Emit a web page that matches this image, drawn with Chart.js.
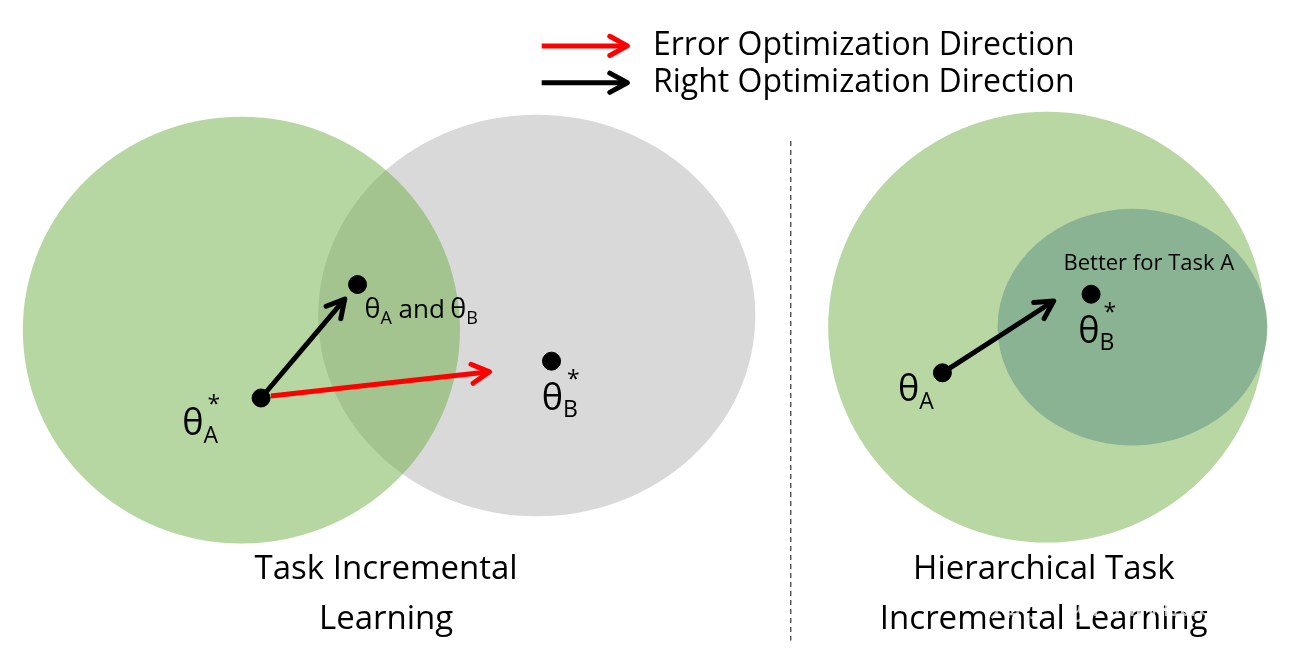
<!DOCTYPE html>
<html><head><meta charset="utf-8">
<script src="https://cdn.jsdelivr.net/npm/chart.js@4"></script>
<style>html,body{margin:0;padding:0;background:#fff}#wrap{width:1298px;height:667px}</style>
</head><body><div id="wrap"><canvas id="c"></canvas></div>
<script>
// regions: centre x, centre y, radius x, radius y (diagram units)
var regionX = [535, 235, 1053, 1140];
var regionY = [315, 330, 327, 327];
var regionRx = [222, 222, 222, 137];
var regionRy = [207, 220, 222, 122];
var regionColor = ['#d9d9d9', 'rgba(109,175,67,0.5)', '#b8d7a3', '#8ab394'];

var pointX = [255, 353, 550, 947, 1098];
var pointY = [400, 283, 362, 374, 293];

// arrows: from -> to
var arrowFromX = [255, 265, 947, 540, 540];
var arrowFromY = [400, 398, 374, 37, 75];
var arrowToX = [340, 487, 1060, 627, 627];
var arrowToY = [298, 373, 300, 37, 75];
var arrowColor = ['#000', '#f00', '#000', '#f00', '#000'];

var legendLabels = ['Error Optimization Direction', 'Right Optimization Direction'];
var titleLeft = ['Task Incremental', 'Learning'];
var titleRight = ['Hierarchical Task', 'Incremental Learning'];

var F = '"Open Sans", sans-serif';

var arrowSets = arrowFromX.map(function (x, i) {
    return {
        type: 'line', data: [{x: x, y: arrowFromY[i]}, {x: arrowToX[i], y: arrowToY[i]}],
        borderColor: arrowColor[i], borderWidth: 5, pointRadius: 0, showLine: true, fill: false
    };
});

var diagramPlugin = {
    id: 'diagram',
    beforeDatasetsDraw: function (chart) {
        var ctx = chart.ctx, xs = chart.scales.x, ys = chart.scales.y;
        ctx.save();
        for (var i = 0; i < regionX.length; i++) {
            var cx = xs.getPixelForValue(regionX[i]), cy = ys.getPixelForValue(regionY[i]);
            var rx = xs.getPixelForValue(regionX[i] + regionRx[i]) - cx;
            var ry = Math.abs(ys.getPixelForValue(regionY[i] + regionRy[i]) - cy);
            ctx.beginPath();
            ctx.ellipse(cx, cy, rx, ry, 0, 0, Math.PI * 2);
            ctx.fillStyle = regionColor[i];
            ctx.fill();
        }
        // divider
        ctx.strokeStyle = '#333'; ctx.lineWidth = 1.2; ctx.setLineDash([5, 4]);
        ctx.beginPath();
        ctx.moveTo(xs.getPixelForValue(793), ys.getPixelForValue(135));
        ctx.lineTo(xs.getPixelForValue(793), ys.getPixelForValue(650));
        ctx.stroke();
        ctx.restore();
    },
    afterDatasetsDraw: function (chart) {
        var ctx = chart.ctx, xs = chart.scales.x, ys = chart.scales.y;
        var X = function (v) { return xs.getPixelForValue(v); };
        var Y = function (v) { return ys.getPixelForValue(v); };
        ctx.save();
        for (var i = 0; i < arrowFromX.length; i++) {
            var x1 = X(arrowFromX[i]), y1 = Y(arrowFromY[i]), x2 = X(arrowToX[i]), y2 = Y(arrowToY[i]);
            var a = Math.atan2(y2 - y1, x2 - x1), L = 20;
            ctx.strokeStyle = arrowColor[i]; ctx.lineWidth = 5; ctx.lineCap = 'round'; ctx.lineJoin = 'round';
            ctx.beginPath();
            ctx.moveTo(x2 - L * Math.cos(a - 0.5), y2 - L * Math.sin(a - 0.5));
            ctx.lineTo(x2, y2);
            ctx.lineTo(x2 - L * Math.cos(a + 0.5), y2 - L * Math.sin(a + 0.5));
            ctx.stroke();
        }
        ctx.fillStyle = '#000'; ctx.textBaseline = 'middle';
        ctx.font = '32px ' + F;
        ctx.fillText(legendLabels[0], X(653), Y(37));
        ctx.fillText(legendLabels[1], X(653), Y(75));
        ctx.textAlign = 'center';
        ctx.font = '33px ' + F;
        ctx.fillText(titleLeft[0], X(382), Y(577));
        ctx.fillText(titleLeft[1], X(382), Y(628));
        ctx.fillText(titleRight[0], X(1050), Y(577));
        ctx.fillText(titleRight[1], X(1050), Y(628));
        // theta labels
        function theta(x, y, sub, star, size) {
            ctx.textAlign = 'left';
            ctx.font = size + 'px ' + F;
            ctx.fillText('θ', X(x), Y(y));
            var w = ctx.measureText('θ').width;
            ctx.font = Math.round(size * 0.65) + 'px ' + F;
            ctx.fillText(sub, X(x) + w, Y(y) + size * 0.3);
            if (star) ctx.fillText('*', X(x) + w + 4, Y(y) - size * 0.55);
            return w + ctx.measureText(sub).width;
        }
        theta(175, 428, 'A', true, 36);
        theta(540, 402, 'B', true, 36);
        theta(902, 393, 'A', false, 36);
        theta(1085, 333, 'B', true, 36);
        var w = theta(360, 310, 'A', false, 27);
        ctx.font = '26px ' + F;
        ctx.fillText(' and ', X(360) + w, Y(310));
        var w2 = ctx.measureText(' and ').width;
        theta(360 + w + w2, 310, 'B', false, 27);
        ctx.font = '22px ' + F;
        ctx.fillText('Better for Task A', X(1070), Y(262));
        // watermark
        ctx.textAlign = 'left';
        ctx.fillStyle = 'rgba(255,255,255,0.75)';
        ctx.font = '32px "Noto Sans CJK SC", ' + F;
        ctx.fillText('知乎 @HAIVLab', X(995), Y(612));
        ctx.restore();
    }
};

var chart = new Chart(document.getElementById('c'), {
    type: 'scatter',
    data: {
        datasets: [{
            data: pointX.map(function (x, i) { return {x: x, y: pointY[i]}; }),
            pointRadius: 9, backgroundColor: '#000', borderColor: '#000'
        }].concat(arrowSets)
    },
    options: {
        responsive: true, maintainAspectRatio: false, animation: false,
        layout: {padding: 0},
        plugins: {legend: {display: false}, tooltip: {enabled: false}},
        scales: {
            x: {type: 'linear', min: 0, max: 1298, display: false},
            y: {type: 'linear', min: 0, max: 667, reverse: true, display: false}
        }
    },
    plugins: [diagramPlugin]
});
</script></body></html>
